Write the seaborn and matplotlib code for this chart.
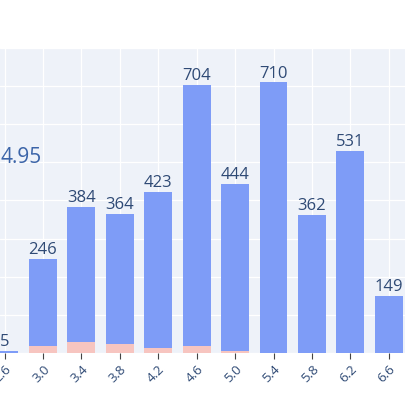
import matplotlib
matplotlib.use("Agg")
import matplotlib.pyplot as plt
import seaborn as sns
import pandas as pd

bins = [2.6, 3.0, 3.4, 3.8, 4.2, 4.6, 5.0, 5.4, 5.8, 6.2, 6.6]
tick_labels = ["2.6", "3.0", "3.4", "3.8", "4.2", "4.6", "5.0", "5.4", "5.8", "6.2", "6.6"]
totals = [5, 246, 384, 364, 423, 704, 444, 710, 362, 531, 149]
pink_counts = [0, 18, 29, 24, 14, 18, 4, 0, 0, 0, 0]
mean_label = "4.95"

BLUE = "#7E9CF7"
PINK = "#F7C5C0"
BG = "#EEF2F9"
TXT = "#2F4A75"

sns.set_theme(style="white")
plt.rcParams['font.family'] = ['Open Sans', 'DejaVu Sans']

fig = plt.figure(figsize=(4.05, 4.05), dpi=100)
ax = fig.add_axes([0.0, 0.1284, 1.0, 0.7531])
ax.set_facecolor(BG)

df = pd.DataFrame({"bin": bins, "total": totals, "pink": pink_counts})
sns.barplot(data=df, x="bin", y="total", native_scale=True, color=BLUE,
            saturation=1, width=0.725, linewidth=0, ax=ax, zorder=2)
sns.barplot(data=df, x="bin", y="pink", native_scale=True, color=PINK,
            saturation=1, width=0.725, linewidth=0, ax=ax, zorder=3)

for b, t in zip(bins, totals):
    ax.text(b, t + 2, str(t), ha="center", va="bottom", fontsize=12, color=TXT, zorder=4)

ax.text(2.99, 514, mean_label, ha="right", va="center", fontsize=15, color="#3B64A8", zorder=4)

ax.set_xlim(2.553, 6.768)
ax.set_ylim(0, 800)
ax.set_xticks(bins)
ax.set_xticklabels(tick_labels, rotation=45, ha="right", rotation_mode="anchor",
                   fontsize=9.5, color=TXT)
ax.set_yticks(range(0, 801, 100))
ax.set_yticklabels([])
ax.tick_params(axis="x", length=4, width=0.8, color="#444444", pad=3, bottom=True)
ax.tick_params(axis="y", length=0)
ax.grid(True, color="white", linewidth=0.9, zorder=0)
ax.set_axisbelow(True)
for s in ax.spines.values():
    s.set_visible(False)
ax.set_xlabel("")
ax.set_ylabel("")

fig.savefig("out.png", dpi=100, facecolor="white")
